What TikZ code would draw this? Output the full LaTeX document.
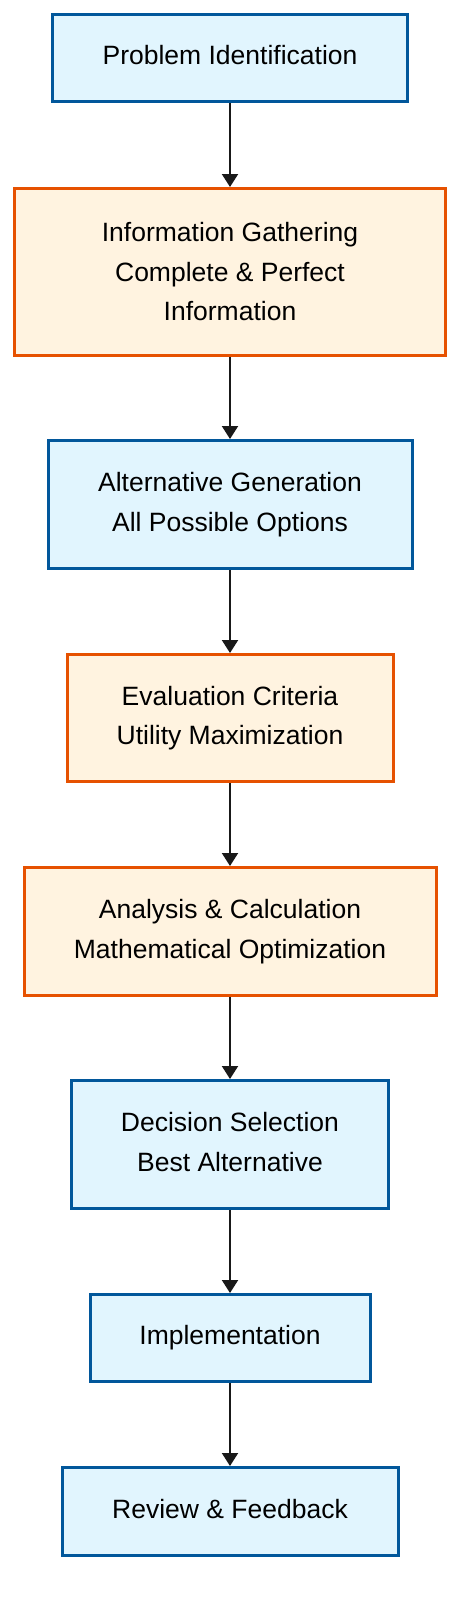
\documentclass[tikz,border=0pt]{standalone}
\usepackage{fontspec}
\setmainfont{Liberation Sans}
\usepackage{xcolor}
\usepackage{tikz}
\usetikzlibrary{arrows.meta}

\definecolor{blueline}{HTML}{01579B}
\definecolor{bluefill}{HTML}{E1F5FE}
\definecolor{orangeline}{HTML}{E65100}
\definecolor{orangefill}{HTML}{FFF3E0}

\begin{document}
\begin{tikzpicture}[x=1pt, y=1pt,
  box/.style={draw, line width=3pt, align=center, inner sep=0pt,
    font=\fontsize{26.5}{39.5}\selectfont},
  bluebox/.style={box, draw=blueline, fill=bluefill},
  orangebox/.style={box, draw=orangeline, fill=orangefill},
  flow/.style={line width=2pt, draw=black!90, -{Triangle[length=13pt, width=16pt]}}]

\useasboundingbox (0,0) rectangle (474,-1617);

% Decision process steps
\node[bluebox, minimum width=355, minimum height=87] (problem) at (230,-58)
  {Problem Identification\vphantom{g}};
\node[orangebox, minimum width=431, minimum height=167] (info) at (230,-272)
  {Information Gathering\\Complete \& Perfect\\Information};
\node[bluebox, minimum width=364, minimum height=128] (alt) at (230,-504.5)
  {Alternative Generation\\All Possible Options};
\node[orangebox, minimum width=326, minimum height=127] (eval) at (230,-718)
  {Evaluation Criteria\\Utility Maximization};
\node[orangebox, minimum width=412, minimum height=128] (analysis) at (230,-931.5)
  {Analysis \& Calculation\\Mathematical Optimization};
\node[bluebox, minimum width=317, minimum height=128] (decision) at (230,-1144.5)
  {Decision Selection\\Best Alternative\vphantom{g}};
\node[bluebox, minimum width=280, minimum height=87] (impl) at (230,-1338)
  {Implementation};
\node[bluebox, minimum width=336, minimum height=88] (review) at (230,-1511.5)
  {Review \& Feedback\vphantom{g}};

% Arrows
\draw[flow] (problem) -- (info);
\draw[flow] (info) -- (alt);
\draw[flow] (alt) -- (eval);
\draw[flow] (eval) -- (analysis);
\draw[flow] (analysis) -- (decision);
\draw[flow] (decision) -- (impl);
\draw[flow] (impl) -- (review);

\end{tikzpicture}
\end{document}
